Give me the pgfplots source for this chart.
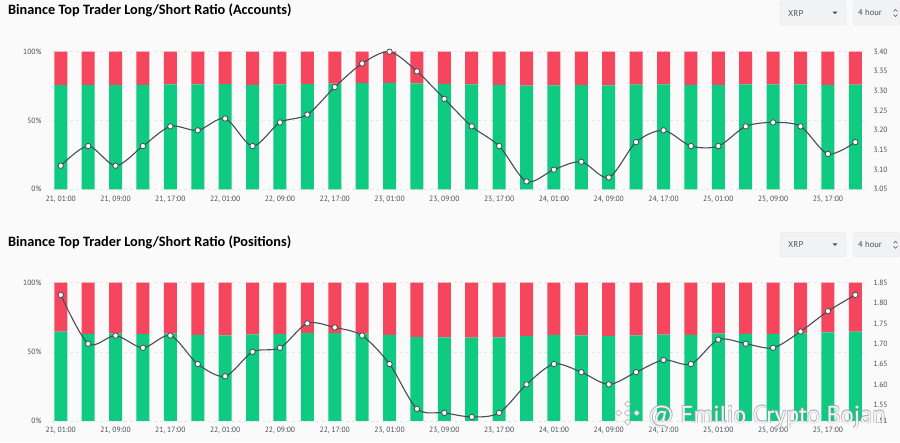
\documentclass[border=0pt]{standalone}
\usepackage{pgfplots}
\pgfplotsset{compat=1.18}
\usepackage{pgfplotstable}
\usepackage{fontspec}
\setmainfont{PT Sans}
\newfontfamily\titlefont{Carlito}
\definecolor{bg}{HTML}{FAFAFA}
\definecolor{upg}{HTML}{0ECB81}
\definecolor{dnr}{HTML}{F6465D}
\definecolor{linec}{HTML}{474D57}
\definecolor{tickc}{HTML}{474D57}
\definecolor{gridc}{HTML}{E4E6E9}
\definecolor{boxc}{HTML}{F1F2F4}
\definecolor{boxb}{HTML}{E6E8EB}
\definecolor{wmc}{HTML}{9A9EA6}

\pgfplotstableread{
i g r v
0 0.7567 0.2433 3.11
1 0.7596 0.2404 3.16
2 0.7567 0.2433 3.11
3 0.7596 0.2404 3.16
4 0.7625 0.2375 3.21
5 0.7619 0.2381 3.20
6 0.7636 0.2364 3.23
7 0.7596 0.2404 3.16
8 0.7630 0.2370 3.22
9 0.7642 0.2358 3.24
10 0.7680 0.2320 3.31
11 0.7712 0.2288 3.37
12 0.7727 0.2273 3.40
13 0.7701 0.2299 3.35
14 0.7664 0.2336 3.28
15 0.7625 0.2375 3.21
16 0.7596 0.2404 3.16
17 0.7543 0.2457 3.07
18 0.7561 0.2439 3.10
19 0.7573 0.2427 3.12
20 0.7549 0.2451 3.08
21 0.7602 0.2398 3.17
22 0.7619 0.2381 3.20
23 0.7596 0.2404 3.16
24 0.7596 0.2404 3.16
25 0.7625 0.2375 3.21
26 0.7630 0.2370 3.22
27 0.7625 0.2375 3.21
28 0.7585 0.2415 3.14
29 0.7602 0.2398 3.17
}\acct

\pgfplotstableread{
i g r v
0 0.6454 0.3546 1.82
1 0.6296 0.3704 1.70
2 0.6324 0.3676 1.72
3 0.6283 0.3717 1.69
4 0.6324 0.3676 1.72
5 0.6226 0.3774 1.65
6 0.6183 0.3817 1.62
7 0.6269 0.3731 1.68
8 0.6283 0.3717 1.69
9 0.6364 0.3636 1.75
10 0.6350 0.3650 1.74
11 0.6324 0.3676 1.72
12 0.6226 0.3774 1.65
13 0.6063 0.3937 1.54
14 0.6047 0.3953 1.53
15 0.6032 0.3968 1.52
16 0.6047 0.3953 1.53
17 0.6154 0.3846 1.60
18 0.6226 0.3774 1.65
19 0.6198 0.3802 1.63
20 0.6154 0.3846 1.60
21 0.6198 0.3802 1.63
22 0.6241 0.3759 1.66
23 0.6226 0.3774 1.65
24 0.6310 0.3690 1.71
25 0.6296 0.3704 1.70
26 0.6283 0.3717 1.69
27 0.6337 0.3663 1.73
28 0.6403 0.3597 1.78
29 0.6454 0.3546 1.82
}\pos

\pgfplotsset{
  base/.style={
    scale only axis, width=814pt, height=137.6pt,
    xmin=-0.32, xmax=29.39, clip=false,
    tick label style={font=\fontsize{7.6}{9}\selectfont, text=tickc},
    /pgf/number format/assume math mode=true,
    axis line style={draw=none}, tick style={draw=none},
    major tick length=0pt,
  },
  bars/.style={base, ybar stacked, bar width=13pt, ymin=0, ymax=1,
    xtick={0,2,...,28},
    xticklabels={{21, 01:00},{21, 09:00},{21, 17:00},{22, 01:00},{22, 09:00},{22, 17:00},{23, 01:00},{23, 09:00},{23, 17:00},{24, 01:00},{24, 09:00},{24, 17:00},{25, 01:00},{25, 09:00},{25, 17:00}},
    xticklabel style={yshift=-3pt},
    ytick={0,0.5,1}, yticklabels={0\%,50\%,100\%},
    yticklabel style={xshift=-7pt},
    ymajorgrids, grid style={gridc, dash pattern=on 3pt off 3pt, line width=0.6pt},
  },
  lineax/.style={base, axis x line=none, axis y line*=right,
    yticklabel style={xshift=4pt, /pgf/number format/.cd, fixed, fixed zerofill, precision=2},
  },
  ratio/.style={linec, line width=1.1pt, smooth, mark=*,
    mark options={fill=white, draw=linec, line width=0.8pt}, mark size=2.7pt},
}

\begin{document}
\begin{tikzpicture}
\begin{scope}[x=1pt,y=1pt]
\fill[bg] (0,0) rectangle (900,442);

% titles
\node[anchor=base west, inner sep=0, font=\titlefont\bfseries\fontsize{14.3}{16}\selectfont] at (8,427) {Binance Top Trader Long/Short Ratio (Accounts)};
\node[anchor=base west, inner sep=0, font=\titlefont\bfseries\fontsize{14.3}{16}\selectfont] at (8,195.3) {Binance Top Trader Long/Short Ratio (Positions)};

% selectors
\foreach \yb in {417,185.3}{
  \filldraw[fill=boxc, draw=boxb, rounded corners=2pt] (780,\yb) rectangle (846,\yb+24);
  \filldraw[fill=boxc, draw=boxb, rounded corners=2pt] (853,\yb) rectangle (899.5,\yb+24);
  \node[anchor=west, inner sep=0, text=tickc, font=\fontsize{8.5}{10}\selectfont] at (788,\yb+12) {XRP};
  \fill[tickc] (832.5,\yb+13.3) -- (837.5,\yb+13.3) -- (835,\yb+10.8) -- cycle;
  \node[anchor=west, inner sep=0, text=tickc, font=\fontsize{8.5}{10}\selectfont] at (858,\yb+12) {4 hour};
  \draw[tickc, line width=0.6pt] (893.5,\yb+13.5) -- (895.5,\yb+15.5) -- (897.5,\yb+13.5);
  \draw[tickc, line width=0.6pt] (893.5,\yb+10.5) -- (895.5,\yb+8.5) -- (897.5,\yb+10.5);
}
\end{scope}

% top panel
\begin{axis}[bars, at={(52pt,252.7pt)}, anchor=south west]
\addplot[fill=upg, draw=none] table[x=i,y=g]{\acct};
\addplot[fill=dnr, draw=none] table[x=i,y=r]{\acct};
\end{axis}
\begin{axis}[lineax, at={(52pt,252.7pt)}, anchor=south west, ymin=3.05, ymax=3.40,
  ytick={3.05,3.10,3.15,3.20,3.25,3.30,3.35,3.40}]
\addplot[ratio] table[x=i,y=v]{\acct};
\end{axis}

% bottom panel
\begin{axis}[bars, at={(52pt,21pt)}, anchor=south west, height=138.3pt]
\addplot[fill=upg, draw=none] table[x=i,y=g]{\pos};
\addplot[fill=dnr, draw=none] table[x=i,y=r]{\pos};
\end{axis}
\begin{axis}[lineax, at={(52pt,21pt)}, anchor=south west, height=138.3pt, ymin=1.51, ymax=1.85,
  ytick={1.51,1.55,1.60,1.65,1.70,1.75,1.80,1.85}]
\addplot[ratio] table[x=i,y=v]{\pos};
\end{axis}

% watermark (white text with grey outline)
\begin{scope}[x=1pt,y=1pt]
\foreach \dx/\dy in {0.6/0.6,-0.6/-0.6,0.6/-0.6,-0.6/0.6}{
  \node[anchor=base west, inner sep=0, text=wmc, opacity=0.6, font=\fontsize{24.3}{26}\selectfont] at (648+\dx,18.7+\dy) {@ Emilio Crypto Bojan};
}
\node[anchor=base west, inner sep=0, text=white, opacity=0.9, font=\fontsize{24.3}{26}\selectfont] at (648,18.7) {@ Emilio Crypto Bojan};
% logo
\begin{scope}[shift={(627.5,29)}]
\foreach \cx/\cy/\s in {0/0/3.2, 0/9/3, 0/-9/3, 9/0/3, -9/0/3}{
  \filldraw[fill=white, draw=wmc, draw opacity=0.7, fill opacity=0.9, line width=0.7pt]
    (\cx,\cy+\s) -- (\cx+\s,\cy) -- (\cx,\cy-\s) -- (\cx-\s,\cy) -- cycle;
}
\end{scope}
\end{scope}
\end{tikzpicture}
\end{document}
